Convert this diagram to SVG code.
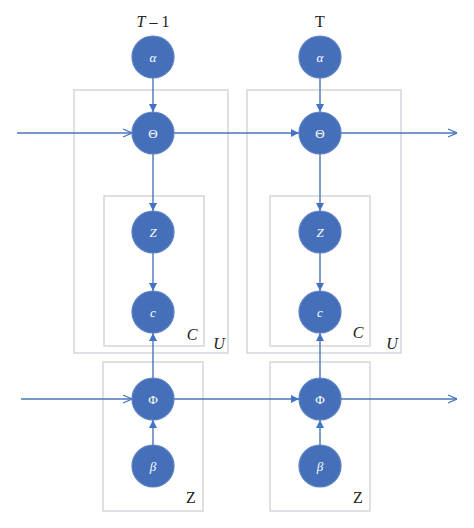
<svg xmlns="http://www.w3.org/2000/svg" width="474" height="528" viewBox="0 0 474 528">
<defs>
<marker id="fill" viewBox="0 0 10 10" refX="10" refY="5" markerWidth="8" markerHeight="8" markerUnits="userSpaceOnUse" orient="auto">
<path d="M0,0 L10,5 L0,10 Z" fill="#4472c4"/>
</marker>
<marker id="open" viewBox="0 0 10 10" refX="10" refY="5" markerWidth="10" markerHeight="10" markerUnits="userSpaceOnUse" orient="auto">
<path d="M1,1 L10,5 L1,9" fill="none" stroke="#4472c4" stroke-width="1.2"/>
</marker>
<style>
.plate{fill:none;stroke:#d3d6dc;stroke-width:1.5}
.node circle{fill:#4570b9;stroke:#5a80c2;stroke-width:1.2}
.node text{fill:#fff;font-family:"Liberation Serif",serif;font-size:13px;text-anchor:middle;dominant-baseline:central}
.lab{font-family:"Liberation Serif",serif;font-size:16px;fill:#222}
.e{stroke:#4a74bd;stroke-width:1.4;fill:none}
.ef{marker-end:url(#fill)}
.eo{marker-end:url(#open)}
</style>
</defs>
<rect width="474" height="528" fill="#fff"/>
<g id="plates">
<rect class="plate" x="74" y="90" width="154" height="263"/>
<rect class="plate" x="104" y="196" width="100" height="150"/>
<rect class="plate" x="103" y="362" width="100" height="149"/>
<rect class="plate" x="247" y="90" width="154" height="263"/>
<rect class="plate" x="270" y="196" width="100" height="150"/>
<rect class="plate" x="270" y="362" width="100" height="149"/>
</g>
<g id="labels">
<text class="lab" x="153" y="27" text-anchor="middle"><tspan font-style="italic">T</tspan> – 1</text>
<text class="lab" x="320" y="27" text-anchor="middle">T</text>
<text class="lab" x="192" y="340" text-anchor="middle" font-style="italic">C</text>
<text class="lab" x="219" y="349" text-anchor="middle" font-style="italic">U</text>
<text class="lab" x="191" y="503" text-anchor="middle">Z</text>
<text class="lab" x="358" y="338" text-anchor="middle" font-style="italic">C</text>
<text class="lab" x="392" y="349" text-anchor="middle" font-style="italic">U</text>
<text class="lab" x="358" y="503" text-anchor="middle">Z</text>
</g>
<g id="connectors">
<line class="e eo" x1="17" y1="133" x2="132" y2="133"/>
<line class="e ef" x1="174" y1="133" x2="299" y2="133"/>
<line class="e eo" x1="341" y1="133" x2="457" y2="133"/>
<line class="e eo" x1="21" y1="399" x2="132" y2="399"/>
<line class="e ef" x1="174" y1="399" x2="299" y2="399"/>
<line class="e eo" x1="341" y1="399" x2="457" y2="399"/>
<line class="e ef" x1="153" y1="78" x2="153" y2="112"/>
<line class="e ef" x1="153" y1="154" x2="153" y2="211"/>
<line class="e ef" x1="153" y1="253" x2="153" y2="291"/>
<line class="e ef" x1="153" y1="378" x2="153" y2="333"/>
<line class="e ef" x1="153" y1="445" x2="153" y2="420"/>
<line class="e ef" x1="320" y1="78" x2="320" y2="112"/>
<line class="e ef" x1="320" y1="154" x2="320" y2="211"/>
<line class="e ef" x1="320" y1="253" x2="320" y2="291"/>
<line class="e ef" x1="320" y1="378" x2="320" y2="333"/>
<line class="e ef" x1="320" y1="445" x2="320" y2="420"/>
</g>
<g id="alpha1" class="node"><circle cx="153" cy="57" r="21"/><text x="153" y="57" font-style="italic">α</text></g>
<g id="theta1" class="node"><circle cx="153" cy="133" r="21"/><text x="153" y="133">Θ</text></g>
<g id="z1" class="node"><circle cx="153" cy="232" r="21"/><text x="153" y="232" font-style="italic">Z</text></g>
<g id="c1" class="node"><circle cx="153" cy="312" r="21"/><text x="153" y="312" font-style="italic">c</text></g>
<g id="phi1" class="node"><circle cx="153" cy="399" r="21"/><text x="153" y="399">Φ</text></g>
<g id="beta1" class="node"><circle cx="153" cy="466" r="21"/><text x="153" y="466" font-style="italic">β</text></g>
<g id="alpha2" class="node"><circle cx="320" cy="57" r="21"/><text x="320" y="57" font-style="italic">α</text></g>
<g id="theta2" class="node"><circle cx="320" cy="133" r="21"/><text x="320" y="133">Θ</text></g>
<g id="z2" class="node"><circle cx="320" cy="232" r="21"/><text x="320" y="232" font-style="italic">Z</text></g>
<g id="c2" class="node"><circle cx="320" cy="312" r="21"/><text x="320" y="312" font-style="italic">c</text></g>
<g id="phi2" class="node"><circle cx="320" cy="399" r="21"/><text x="320" y="399">Φ</text></g>
<g id="beta2" class="node"><circle cx="320" cy="466" r="21"/><text x="320" y="466" font-style="italic">β</text></g>
</svg>
